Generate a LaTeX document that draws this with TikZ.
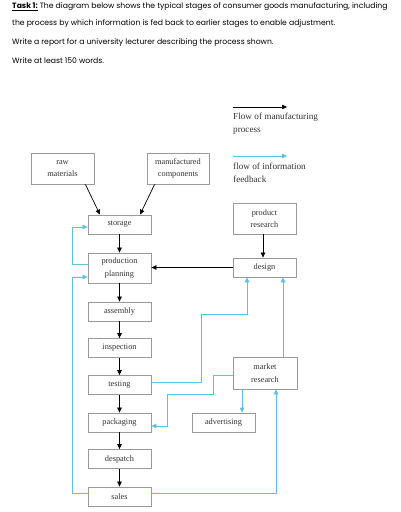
\documentclass[tikz,border=0pt]{standalone}
\usepackage{fontspec}
\setmainfont{Liberation Serif}
\newfontfamily\taskfont{Poppins}
\usepackage{tikz}
\usetikzlibrary{arrows.meta,positioning}
\definecolor{boxgray}{HTML}{9A9A9A}
\definecolor{feedblue}{HTML}{5BC0EB}
\definecolor{inkgray}{HTML}{333333}

\tikzset{
  stage/.style={rectangle,draw=boxgray,line width=0.8pt,fill=white,minimum width=63pt,minimum height=19pt,
    align=center,inner sep=0pt,text=inkgray,font=\fontsize{8.3}{12.5}\selectfont},
  tall/.style={stage,minimum height=31pt},
  flow/.style={-{Triangle[length=5pt,width=4.5pt]},black,line width=0.7pt},
  feed/.style={-{Triangle[length=5pt,width=4.5pt]},feedblue,line width=0.8pt},
  task/.style={anchor=west,inner sep=0pt,font=\taskfont\fontsize{7.7}{9}\selectfont},
  legend/.style={anchor=north west,inner sep=0pt,align=left,text=inkgray,font=\fontsize{9.2}{12.5}\selectfont}
}

\begin{document}
\begin{tikzpicture}[x=1pt,y=-1pt]
\useasboundingbox[fill=white] (0,0) rectangle (400,512);
% task text
\node[task] (t1) at (12,7) {\textbf{\underline{Task 1:}} The diagram below shows the typical stages of consumer goods manufacturing, including};
\node[task] (t2) at (12,24) {the process by which information is fed back to earlier stages to enable adjustment.};
\node[task] (t3) at (12,43) {Write a report for a university lecturer describing the process shown.};
\node[task] (t4) at (12,61) {Write at least 150 words.};
% legend
\coordinate (k0) at (233,107);
\coordinate (k1) at (287,107);
\draw[flow] (k0) -- (k1);
\node[legend] (kt0) at (233,113) {Flow of manufacturing\\process};
\coordinate (k2) at (233,156);
\coordinate (k3) at (287,156);
\draw[feed] (k2) -- (k3);
\node[legend] (kt1) at (233,163) {flow of information\\feedback};
% stages
\node[tall] (raw) at (62.5,168.5) {raw\\materials};
\node[tall,minimum width=62pt] (comp) at (178,168.5) {manufactured\\components};
\node[stage] (store) at (119.5,224.5) {storage};
\node[tall,minimum height=30pt] (plan) at (119.5,268) {production\\planning};
\node[stage] (asm) at (119.5,311.5) {assembly};
\node[stage] (insp) at (119.5,348) {inspection};
\node[stage] (test) at (119.5,385) {testing};
\node[stage] (pack) at (119.5,422.5) {packaging};
\node[stage] (desp) at (119.5,459) {despatch};
\node[stage] (sales) at (119.5,496.5) {sales};
\node[tall] (prod) at (264.5,218.5) {product\\research};
\node[stage] (design) at (264.5,267.5) {design};
\node[tall,minimum height=32pt,minimum width=64pt] (market) at (265,373) {market\\research};
\node[stage] (adv) at (223.5,422.5) {advertising};
% manufacturing flow
\draw[flow] (raw.south east) ++(-9,0) -- ([xshift=-19.5pt]store.north);
\draw[flow] (comp.south west) ++(8,0) -- ([xshift=20.5pt]store.north);
\draw[flow] (store) -- (plan);
\draw[flow] (plan) -- (asm);
\draw[flow] (asm) -- (insp);
\draw[flow] (insp) -- (test);
\draw[flow] (test) -- (pack);
\draw[flow] (pack) -- (desp);
\draw[flow] (desp) -- (sales);
\draw[flow] ([xshift=-1.5pt]prod.south) -- ([xshift=-1.5pt]design.north);
\draw[flow] (design.west) -- (design.west -| plan.east);
% information feedback
\coordinate (b0) at (72,264);
\coordinate (b1) at (72,493);
\coordinate (b2) at (201,382);
\coordinate (b3) at (201,314);
\coordinate (b4) at (213,375);
\coordinate (b5) at (213,394);
\coordinate (b6) at (167,394);
\coordinate (b7) at (167,426);
\draw[feed] ([yshift=4pt]plan.west) -- (b0) |- ([yshift=-2.5pt]store.west);
\draw[feed] ([yshift=3.5pt]sales.west) -- (b1) |- ([yshift=-9pt]plan.west);
\draw[feed] ([yshift=3pt]test.east) -- (b2) -- (b3) -| ([xshift=-17.5pt]design.south);
\draw[feed] ([xshift=18pt]market.north) -- ([xshift=18.5pt]design.south);
\draw[feed] ([yshift=-2pt]market.west) -- (b4) -- (b5) -- (b6) -- (b7) -- ([yshift=-3.5pt]pack.east);
\draw[feed] ([xshift=-23pt]market.south) -- ([xshift=18.5pt]adv.north);
\draw[feed] ([yshift=3.5pt]sales.east) -| ([xshift=11pt]market.south);
\end{tikzpicture}
\end{document}
